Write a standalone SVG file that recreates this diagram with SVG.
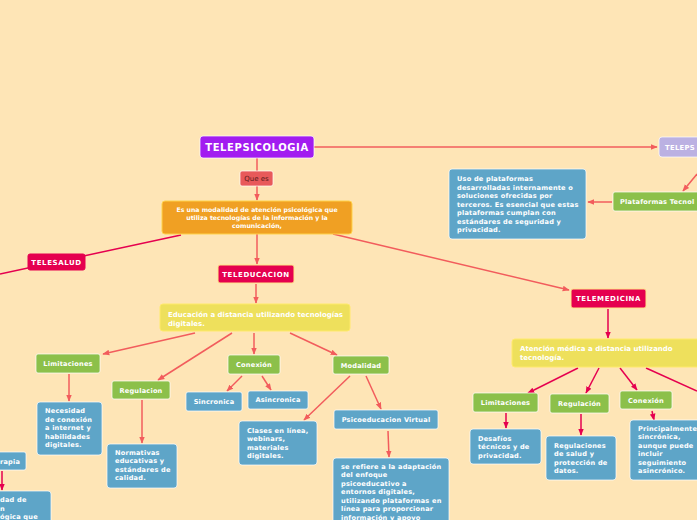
<svg xmlns="http://www.w3.org/2000/svg" width="697" height="520" viewBox="0 0 697 520">
<defs>
<marker id="as" viewBox="0 0 10 10" refX="9" refY="5" markerWidth="7" markerHeight="7" markerUnits="userSpaceOnUse" orient="auto"><path d="M0,1 L10,5 L0,9 z" fill="#F25C5C"/></marker>
<marker id="ac" viewBox="0 0 10 10" refX="9" refY="5" markerWidth="7" markerHeight="7" markerUnits="userSpaceOnUse" orient="auto"><path d="M0,1 L10,5 L0,9 z" fill="#E5004F"/></marker>
<style>
text{font-family:"DejaVu Sans",Verdana,sans-serif;font-weight:bold;fill:#fff}
.s{stroke:#F25C5C;stroke-width:1.5;fill:none}
.c{stroke:#E5004F;stroke-width:1.5;fill:none}
.sa{marker-end:url(#as)}
.ca{marker-end:url(#ac)}
.bx{stroke:#fff;stroke-opacity:0.7;stroke-width:1}
.pur{fill:#A21CF0}
.red{fill:#E8595A}
.ora{fill:#F0A023}
.cri{fill:#E5004F;stroke:#FFE58A;stroke-width:1}
.yel{fill:#EEE05C;stroke:#FFEA6A;stroke-width:1}
.grn{fill:#8CC04A}
.blu{fill:#5EA5C8}
.lav{fill:#BBB1E2}
.t7{font-size:7px;letter-spacing:0px}
.t65{font-size:6.6px;letter-spacing:0.2px}
.h{font-size:7px;letter-spacing:0.6px}
.m{text-anchor:middle}
</style>
</defs>
<rect width="697" height="520" fill="#FEE5B6"/>

<g id="connectors">
<line class="s" x1="257" y1="158" x2="257" y2="171"/>
<line class="s sa" x1="257" y1="186" x2="257" y2="200"/>
<line class="s sa" x1="314" y1="147" x2="657" y2="147"/>
<line class="c" x1="181" y1="235" x2="0" y2="274"/>
<line class="s sa" x1="257" y1="234" x2="257" y2="264"/>
<line class="s sa" x1="333" y1="234" x2="569" y2="290"/>
<line class="s sa" x1="256" y1="284" x2="256" y2="303"/>
<line class="s sa" x1="195" y1="333" x2="103" y2="354"/>
<line class="s sa" x1="232" y1="333" x2="158" y2="380"/>
<line class="s sa" x1="254" y1="333" x2="254" y2="354"/>
<line class="s sa" x1="290" y1="333" x2="337" y2="355"/>
<line class="s sa" x1="69" y1="374" x2="69" y2="401"/>
<line class="s sa" x1="142" y1="400" x2="142" y2="443"/>
<line class="s sa" x1="242" y1="376" x2="227" y2="391"/>
<line class="s sa" x1="262" y1="376" x2="271" y2="390"/>
<line class="s sa" x1="350" y1="376" x2="304" y2="420"/>
<line class="s sa" x1="366" y1="376" x2="381" y2="409"/>
<line class="s sa" x1="388" y1="431" x2="389" y2="457"/>
<line class="c ca" x1="608" y1="309" x2="608" y2="338"/>
<line class="c ca" x1="578" y1="368" x2="528" y2="393"/>
<line class="c ca" x1="599" y1="368" x2="586" y2="393"/>
<line class="c ca" x1="620" y1="368" x2="637" y2="390"/>
<line class="c" x1="646" y1="368" x2="697" y2="391"/>
<line class="c ca" x1="506" y1="413" x2="506" y2="428"/>
<line class="c ca" x1="581" y1="414" x2="581" y2="435"/>
<line class="c ca" x1="652" y1="411" x2="654" y2="420"/>
<line class="s sa" x1="697" y1="174" x2="683" y2="191"/>
<line class="s sa" x1="612" y1="202" x2="588" y2="202"/>
<line class="c ca" x1="2" y1="471" x2="2" y2="490"/>
</g>

<g id="telepsicologia"><rect class="pur bx" x="200" y="136" width="114" height="22" rx="3"/><text x="257" y="151" class="m" style="font-size:10px;letter-spacing:0.6px">TELEPSICOLOGIA</text></g>
<g id="quees"><rect class="red bx" x="240" y="171" width="33" height="15" rx="2"/><text x="256.5" y="181" class="m" style="font-size:7px;font-weight:normal;fill:#5A1A1A">Que es</text></g>
<g id="definicion"><rect class="ora" x="162" y="201" width="190" height="33" rx="3" stroke="#FFD24A" stroke-width="1"/>
<text class="m" style="font-size:6.2px" x="257" y="212">Es una modalidad de atención psicológica que</text>
<text class="m" style="font-size:6.2px" x="257" y="220">utiliza tecnologías de la información y la</text>
<text class="m" style="font-size:6.2px" x="257" y="228">comunicación,</text></g>

<g id="telesalud"><rect class="cri" x="28" y="254" width="57" height="16" rx="2" style="stroke:#E5004F"/><text x="56.5" y="265" class="m h">TELESALUD</text></g>
<g id="teleducacion"><rect class="cri" x="218" y="265" width="76" height="18" rx="2"/><text x="256" y="277" class="m h">TELEDUCACION</text></g>
<g id="educacion"><rect class="yel" x="160" y="304" width="190" height="27" rx="3"/>
<text class="t7" x="168" y="317">Educación a distancia utilizando tecnologías</text>
<text class="t7" x="168" y="326">digitales.</text></g>

<g id="limitaciones1"><rect class="grn bx" x="36" y="354" width="64" height="19" rx="2"/><text class="m t65" x="68" y="366">Limitaciones</text></g>
<g id="regulacion1"><rect class="grn bx" x="112" y="381" width="58" height="18" rx="2"/><text class="m t65" x="141" y="393">Regulacion</text></g>
<g id="conexion1"><rect class="grn bx" x="228" y="355" width="52" height="19" rx="2"/><text class="m t65" x="254" y="367">Conexión</text></g>
<g id="modalidad"><rect class="grn bx" x="333" y="356" width="56" height="18" rx="2"/><text class="m t65" x="361" y="368">Modalidad</text></g>

<g id="necesidad"><rect class="blu bx" x="37" y="402" width="65" height="53" rx="3"/>
<text class="t65" x="45" y="413">Necesidad</text><text class="t65" x="45" y="422">de conexión</text><text class="t65" x="45" y="430">a internet y</text><text class="t65" x="45" y="439">habilidades</text><text class="t65" x="45" y="447">digitales.</text></g>
<g id="normativas"><rect class="blu bx" x="107" y="444" width="70" height="44" rx="3"/>
<text class="t65" x="115" y="455">Normativas</text><text class="t65" x="115" y="463">educativas y</text><text class="t65" x="115" y="472">estándares de</text><text class="t65" x="115" y="480">calidad.</text></g>
<g id="sincronica"><rect class="blu bx" x="186" y="392" width="56" height="19" rx="2"/><text class="m t65" x="214" y="404">Sincronica</text></g>
<g id="asincronica"><rect class="blu bx" x="248" y="391" width="60" height="18" rx="2"/><text class="m t65" x="278" y="402">Asincronica</text></g>
<g id="clases"><rect class="blu bx" x="239" y="421" width="78" height="44" rx="3"/>
<text class="t65" x="247" y="433">Clases en línea,</text><text class="t65" x="247" y="441">webinars,</text><text class="t65" x="247" y="450">materiales</text><text class="t65" x="247" y="458">digitales.</text></g>
<g id="psicoeducacion"><rect class="blu bx" x="334" y="410" width="104" height="19" rx="2"/><text class="m t65" x="386" y="422">Psicoeducacion Virtual</text></g>
<g id="serefiere"><rect class="blu bx" x="333" y="458" width="116" height="70" rx="3"/>
<text class="t65" x="341" y="469">se refiere a la adaptación</text><text class="t65" x="341" y="477">del enfoque</text><text class="t65" x="341" y="486">psicoeducativo a</text><text class="t65" x="341" y="494">entornos digitales,</text><text class="t65" x="341" y="503">utilizando plataformas en</text><text class="t65" x="341" y="511">línea para proporcionar</text><text class="t65" x="341" y="519.5">información y apoyo</text></g>

<g id="telemedicina"><rect class="cri" x="571" y="289" width="75" height="19" rx="2"/><text x="608.5" y="301" class="m h">TELEMEDICINA</text></g>
<g id="atencion"><rect class="yel" x="512" y="339" width="200" height="28" rx="3"/>
<text class="t7" x="520" y="351">Atención médica a distancia utilizando</text>
<text class="t7" x="520" y="360">tecnología.</text></g>
<g id="limitaciones2"><rect class="grn bx" x="473" y="393" width="65" height="19" rx="2"/><text class="m t65" x="505.5" y="405">Limitaciones</text></g>
<g id="regulacion2"><rect class="grn bx" x="550" y="394" width="59" height="19" rx="2"/><text class="m t65" x="579.5" y="406">Regulación</text></g>
<g id="conexion2"><rect class="grn bx" x="620" y="391" width="52" height="18" rx="2"/><text class="m t65" x="646" y="403">Conexión</text></g>
<g id="desafios"><rect class="blu bx" x="470" y="429" width="71" height="35" rx="3"/>
<text class="t65" x="478" y="441">Desafíos</text><text class="t65" x="478" y="449">técnicos y de</text><text class="t65" x="478" y="458">privacidad.</text></g>
<g id="regulaciones"><rect class="blu bx" x="546" y="436" width="70" height="44" rx="3"/>
<text class="t65" x="554" y="448">Regulaciones</text><text class="t65" x="554" y="456">de salud y</text><text class="t65" x="554" y="465">protección de</text><text class="t65" x="554" y="473">datos.</text></g>
<g id="principalmente"><rect class="blu bx" x="630" y="420" width="80" height="60" rx="3"/>
<text class="t65" x="638" y="431">Principalmente</text><text class="t65" x="638" y="439">sincrónica,</text><text class="t65" x="638" y="448">aunque puede</text><text class="t65" x="638" y="456">incluir</text><text class="t65" x="638" y="465">seguimiento</text><text class="t65" x="638" y="473">asincrónico.</text></g>

<g id="telepsicologia2"><rect class="lav bx" x="659" y="137" width="50" height="20" rx="3"/><text x="665" y="150" style="font-size:6.8px;letter-spacing:0.3px">TELEPS</text></g>
<g id="plataformas"><rect class="grn bx" x="613" y="192" width="95" height="19" rx="2"/><text x="620" y="204" class="t65">Plataformas Tecnol</text></g>
<g id="usoplataformas"><rect class="blu bx" x="449" y="169" width="137" height="70" rx="3"/>
<text class="t65" x="457" y="181">Uso de plataformas</text><text class="t65" x="457" y="190">desarrolladas internamente o</text><text class="t65" x="457" y="198">soluciones ofrecidas por</text><text class="t65" x="457" y="207">terceros. Es esencial que estas</text><text class="t65" x="457" y="215">plataformas cumplan con</text><text class="t65" x="457" y="224">estándares de seguridad y</text><text class="t65" x="457" y="232">privacidad.</text></g>

<g id="terapia"><rect class="blu bx" x="-10" y="452" width="36" height="18" rx="2"/><text x="0" y="464" class="t65">rapia</text></g>
<g id="modalidadterapia"><rect class="blu bx" x="-10" y="491" width="61" height="40" rx="3"/>
<text class="t65" x="0" y="502">dad de</text><text class="t65" x="0" y="511">n</text><text class="t65" x="0" y="519">ógica que</text></g>
</svg>
